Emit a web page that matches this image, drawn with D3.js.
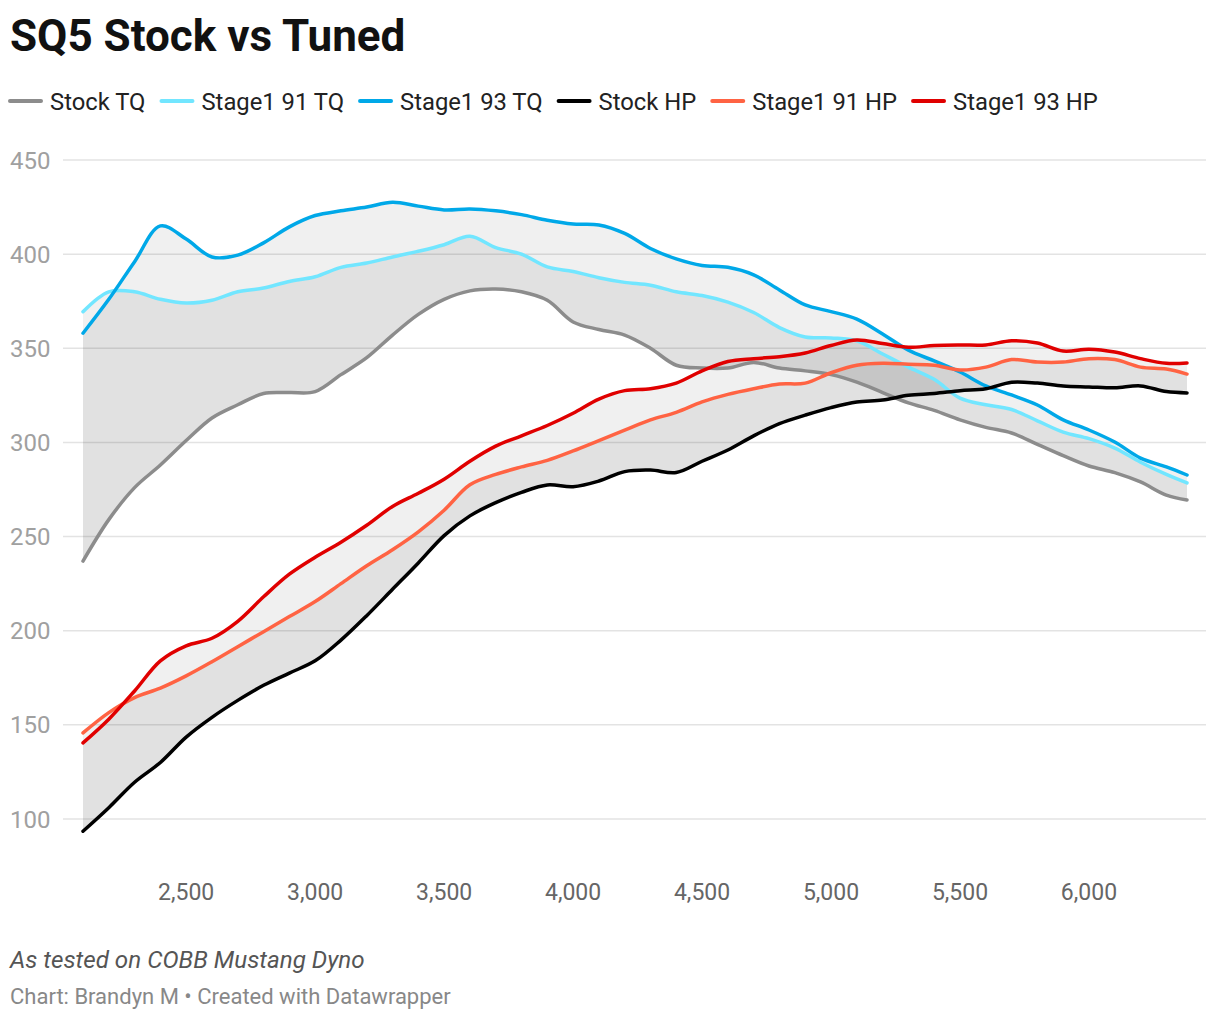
<!DOCTYPE html>
<html lang="en">
<head>
<meta charset="utf-8" />
<title>SQ5 Stock vs Tuned</title>
<style>
  body { margin: 0; padding: 0; background: #fff; font-family: Roboto, "Noto Sans", sans-serif; }
  svg { display: block; }
  .grid line { stroke: #e3e3e3; stroke-width: 1.5px; }
  .ylab { fill: #a0a0a0; font-size: 24px; }
  .xlab { fill: #666; font-size: 23px; }
  .series { fill: none; stroke-width: 3.5px; stroke-linejoin: round; stroke-linecap: round; }
</style>
</head>
<body>
<div id="chart"></div>
<script src="https://d3js.org/d3.v7.min.js"></script>
<script>
// rpm sample points
const rpm = [2100, 2200, 2300, 2400, 2500, 2600, 2700, 2800, 2900, 3000,
             3100, 3200, 3300, 3400, 3500, 3600, 3700, 3800, 3900, 4000,
             4100, 4200, 4300, 4400, 4500, 4600, 4700, 4800, 4900, 5000,
             5100, 5200, 5300, 5400, 5500, 5600, 5700, 5800, 5900, 6000,
             6100, 6200, 6300, 6380];

const stockTQ = [237, 259, 276, 288, 301, 313, 320, 326, 326.5, 327,
                 336, 345, 357, 368, 376, 380.5, 381.5, 380, 375.5, 364,
                 360, 357, 350, 341, 339.5, 339.5, 342.5, 339.5, 338, 336,
                 332, 326.5, 321, 317, 312, 308, 305, 299, 293, 287.5,
                 284, 279, 272, 269.4];
const s91TQ = [369.4, 380, 380, 376, 374, 375.5, 380, 382, 385.5, 388,
               393, 395.3, 398.5, 401.5, 405, 409.5, 403.5, 400, 393.2, 390.8,
               387.5, 385, 383.5, 380, 378, 374.5, 369, 361, 356, 355.5,
               354, 347, 340, 333.5, 323.5, 320, 317.5, 311.5, 305.5, 302,
               297, 289.5, 283, 278.5];
const s93TQ = [358, 376, 396, 415, 408, 398.5, 399.5, 406, 414.5, 420.5,
               423, 425, 427.5, 425.5, 423.5, 424, 423, 421, 418, 416,
               415.5, 411, 403, 397.5, 394, 393, 389, 381, 373, 369.5,
               365.5, 357.6, 349, 343.3, 337.4, 330, 325.2, 319.9, 312, 306.6,
               300.2, 291.7, 287, 282.7];
const stockHP = [93.5, 106, 119.5, 130, 143.5, 154, 163, 171, 177.5, 184,
                 195, 208, 222, 236, 250.5, 261, 268, 273.5, 277.4, 276.5,
                 279.5, 284.5, 285.3, 284, 290, 296, 303.5, 310, 314.5, 318.5,
                 321.5, 322.5, 325, 326, 327.5, 328.5, 332, 331.5, 330, 329.5,
                 329, 330, 327, 326.3];
const s91HP = [145.7, 156.5, 164.5, 169.5, 176, 183.5, 191.5, 199.5, 207.5, 215.5,
               225, 234.5, 243, 252.5, 264, 277.5, 283, 287, 290.5, 295.5,
               301, 306.5, 312, 316, 321.5, 325.5, 328.5, 331, 331.5, 337,
               341, 342, 341.5, 341, 338.5, 340, 344, 342.7, 342.7, 344.5,
               344, 340, 339, 336.3];
const s93HP = [140.4, 153, 168, 184, 192, 196, 205, 218, 230, 239,
               247, 256, 266, 273, 280.5, 290, 298, 303.5, 309, 315.5,
               323, 327.5, 328.5, 331.5, 338, 343, 344.5, 345.5, 347.5, 351.5,
               354.4, 352.5, 350.5, 351.5, 351.8, 351.8, 354, 352.8, 348.5, 349.5,
               348, 344.5, 342, 342.2];

const seriesNames = ['Stock TQ', 'Stage1 91 TQ', 'Stage1 93 TQ', 'Stock HP', 'Stage1 91 HP', 'Stage1 93 HP'];
const seriesValues = [stockTQ, s91TQ, s93TQ, stockHP, s91HP, s93HP];
const seriesColors = ['#8c8c8c', '#72e6ff', '#00a8e8', '#000000', '#ff6343', '#e00000'];
const yTicks = [100, 150, 200, 250, 300, 350, 400, 450];
const xTicks = [2500, 3000, 3500, 4000, 4500, 5000, 5500, 6000];
// shaded ranges: [low series, high series]
const bands = [[0, 2], [0, 1], [3, 5], [3, 4]];

const W = 1220, H = 1020;
const svg = d3.select('#chart').append('svg').attr('width', W).attr('height', H);

const x = d3.scaleLinear().domain([2100, 6380]).range([83, 1187]);
const y = d3.scaleLinear().domain([100, 450]).range([819, 160]);

// title
svg.append('text').attr('x', 10).attr('y', 51)
  .attr('font-size', 44).attr('font-weight', 700).attr('fill', '#111')
  .text('SQ5 Stock vs Tuned');

// legend
let lx = 10;
seriesNames.forEach((name, i) => {
  const g = svg.append('g');
  g.append('line').attr('x1', lx).attr('x2', lx + 31).attr('y1', 101).attr('y2', 101)
    .attr('stroke', seriesColors[i]).attr('stroke-width', 4).attr('stroke-linecap', 'round');
  const t = g.append('text').attr('x', lx + 40).attr('y', 109.5)
    .attr('font-size', 23.8).attr('fill', '#222').text(name);
  lx += 40 + t.node().getComputedTextLength() + 16;
});

// gridlines + y labels
const grid = svg.append('g').attr('class', 'grid');
grid.selectAll('line').data(yTicks).enter().append('line')
  .attr('x1', 63).attr('x2', 1206)
  .attr('y1', d => y(d)).attr('y2', d => y(d));
svg.selectAll('.ylab').data(yTicks).enter().append('text')
  .attr('class', 'ylab').attr('x', 10).attr('y', d => y(d) + 8.5)
  .text(d => d);

// x labels
svg.selectAll('.xlab').data(xTicks).enter().append('text')
  .attr('class', 'xlab').attr('x', d => x(d)).attr('y', 900)
  .attr('text-anchor', 'middle')
  .text(d => d3.format(',')(d));

// bands
const curve = d3.curveCatmullRom.alpha(0.5);
bands.forEach(([lo, hi]) => {
  const area = d3.area()
    .x((d, i) => x(rpm[i]))
    .y0((d, i) => y(seriesValues[lo][i]))
    .y1((d, i) => y(seriesValues[hi][i]))
    .curve(curve);
  svg.append('path').datum(rpm).attr('d', area)
    .attr('fill', '#000').attr('fill-opacity', 0.058);
});

// lines
const line = d3.line().x((d, i) => x(rpm[i])).y(d => y(d)).curve(curve);
seriesValues.forEach((vals, i) => {
  svg.append('path').datum(vals).attr('class', 'series')
    .attr('d', line).attr('stroke', seriesColors[i]);
});

// notes
svg.append('text').attr('x', 10).attr('y', 968)
  .attr('font-size', 24.2).attr('font-style', 'italic').attr('fill', '#555')
  .text('As tested on COBB Mustang Dyno');
svg.append('text').attr('x', 10).attr('y', 1004)
  .attr('font-size', 22).attr('fill', '#888')
  .text('Chart: Brandyn M \u2022 Created with Datawrapper');
</script>
</body>
</html>
